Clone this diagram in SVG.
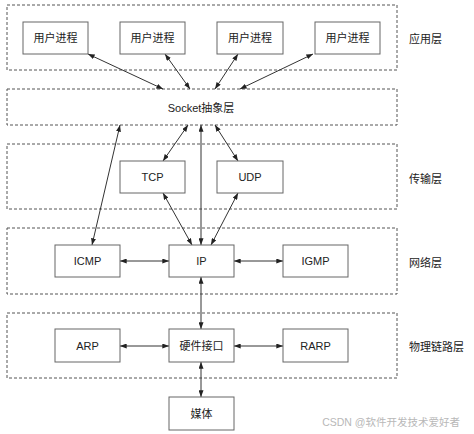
<svg xmlns="http://www.w3.org/2000/svg" width="474" height="434" viewBox="0 0 474 434">
<defs>
<style>
.layer{fill:none;stroke:#555;stroke-width:1;stroke-dasharray:3,2}
.box{fill:#fff;stroke:#666;stroke-width:1}
.t{font-family:"Liberation Sans","Noto Sans CJK SC",sans-serif;font-size:11px;fill:#222;text-anchor:middle;dominant-baseline:central}
.lbl{font-family:"Noto Sans CJK SC","Liberation Sans",sans-serif;font-size:11px;fill:#222;dominant-baseline:central}
.c{stroke:#333;stroke-width:1;fill:none;marker-start:url(#a);marker-end:url(#a)}
</style>
<marker id="a" viewBox="0 0 8 6" refX="8" refY="3" markerWidth="7" markerHeight="5" markerUnits="userSpaceOnUse" orient="auto-start-reverse">
<path d="M0,0 L8,3 L0,6 Z" fill="#222"/>
</marker>
</defs>
<rect width="474" height="434" fill="#fff"/>
<g id="layers">
<rect class="layer" x="7" y="5" width="390" height="65"/>
<rect class="layer" x="7" y="89" width="390" height="36"/>
<rect class="layer" x="7" y="144" width="390" height="65"/>
<rect class="layer" x="7" y="228" width="390" height="66"/>
<rect class="layer" x="7" y="313" width="390" height="65"/>
<text class="t" x="201" y="108">Socket抽象层</text>
<text class="lbl" x="409" y="38">应用层</text>
<text class="lbl" x="409" y="178">传输层</text>
<text class="lbl" x="409" y="262">网络层</text>
<text class="lbl" x="409" y="346">物理链路层</text>
</g>
<g id="connectors">
<line class="c" x1="88" y1="54" x2="163" y2="89"/>
<line class="c" x1="165" y1="54" x2="190" y2="89"/>
<line class="c" x1="238" y1="54" x2="215" y2="89"/>
<line class="c" x1="313" y1="54" x2="240" y2="89"/>
<line class="c" x1="120" y1="125" x2="92" y2="245"/>
<line class="c" x1="188" y1="125" x2="163" y2="161"/>
<line class="c" x1="201" y1="125" x2="201" y2="245"/>
<line class="c" x1="215" y1="125" x2="238" y2="161"/>
<line class="c" x1="163" y1="193" x2="192" y2="245"/>
<line class="c" x1="238" y1="193" x2="211" y2="245"/>
<line class="c" x1="120" y1="261" x2="169" y2="261"/>
<line class="c" x1="234" y1="261" x2="283" y2="261"/>
<line class="c" x1="201" y1="277" x2="201" y2="329"/>
<line class="c" x1="120" y1="346" x2="169" y2="346"/>
<line class="c" x1="234" y1="346" x2="283" y2="346"/>
<line class="c" x1="201" y1="362" x2="201" y2="397"/>
</g>
<g id="p1"><rect class="box" x="23" y="22" width="65" height="32"/><text class="t" x="55.5" y="38">用户进程</text></g>
<g id="p2"><rect class="box" x="120" y="22" width="65" height="32"/><text class="t" x="152.5" y="38">用户进程</text></g>
<g id="p3"><rect class="box" x="217" y="22" width="66" height="32"/><text class="t" x="250" y="38">用户进程</text></g>
<g id="p4"><rect class="box" x="315" y="22" width="65" height="32"/><text class="t" x="347.5" y="38">用户进程</text></g>
<g id="tcp"><rect class="box" x="120" y="161" width="65" height="32"/><text class="t" x="152.5" y="177">TCP</text></g>
<g id="udp"><rect class="box" x="217" y="161" width="66" height="32"/><text class="t" x="250" y="177">UDP</text></g>
<g id="icmp"><rect class="box" x="55" y="245" width="65" height="32"/><text class="t" x="87.5" y="261">ICMP</text></g>
<g id="ip"><rect class="box" x="169" y="245" width="65" height="32"/><text class="t" x="201.5" y="261">IP</text></g>
<g id="igmp"><rect class="box" x="283" y="245" width="65" height="32"/><text class="t" x="315.5" y="261">IGMP</text></g>
<g id="arp"><rect class="box" x="55" y="329" width="65" height="33"/><text class="t" x="87.5" y="346">ARP</text></g>
<g id="hw"><rect class="box" x="169" y="329" width="65" height="33"/><text class="t" x="201.5" y="346">硬件接口</text></g>
<g id="rarp"><rect class="box" x="283" y="329" width="65" height="33"/><text class="t" x="315.5" y="346">RARP</text></g>
<g id="media"><rect class="box" x="169" y="397" width="65" height="33"/><text class="t" x="201.5" y="414">媒体</text></g>
<text x="460" y="422" font-family="Liberation Sans,Noto Sans CJK SC,sans-serif" font-size="10.5" fill="#b8b8b8" text-anchor="end" dominant-baseline="central">CSDN @软件开发技术爱好者</text>
</svg>
